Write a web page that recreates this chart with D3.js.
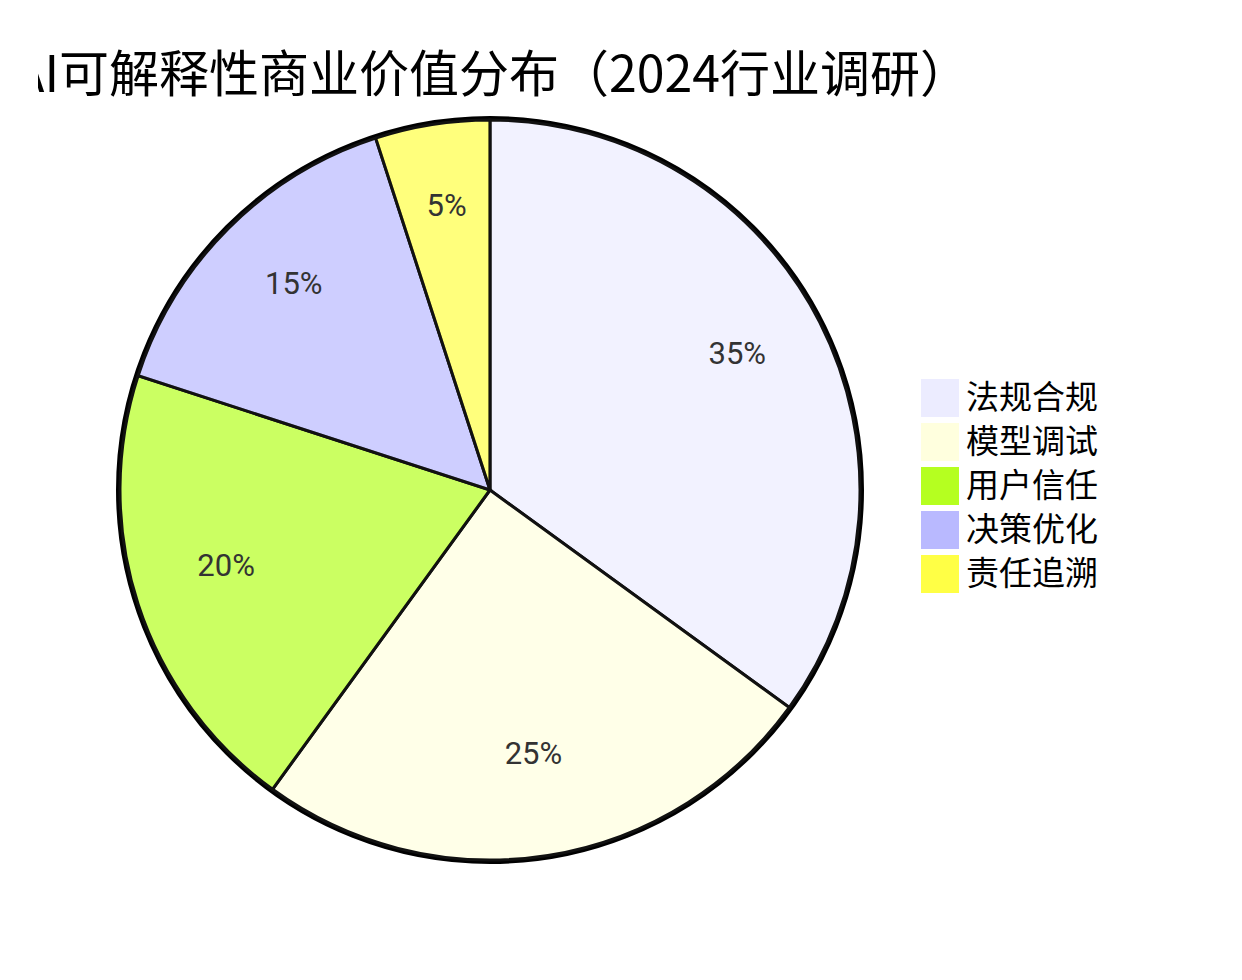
<!DOCTYPE html>
<html>
<head>
<meta charset="utf-8">
<script src="https://cdn.jsdelivr.net/npm/d3@7"></script>
<style>
  body { margin: 0; background: #fff; }
  svg { display: block; font-family: "Noto Sans CJK SC", "Noto Sans", sans-serif; }
</style>
</head>
<body>
<div id="pieFrame"></div>
<script>
// chart data
const title = 'AI可解释性商业价值分布（2024行业调研）'
const categories = ['法规合规', '模型调试', '用户信任', '决策优化', '责任追溯']
const values = [35, 25, 20, 15, 5]
const colors = ['#ECECFF', '#FFFFDE', '#B5FF20', '#B9B9FF', '#FFFF45']

const width = 1242
const height = 980
const cx = 490, cy = 490
const radius = 370

var svg = d3.select('#pieFrame')
  .append('svg')
    .attr('width', width)
    .attr('height', height)

// title is cut at the left edge like the original
svg.append('clipPath')
    .attr('id', 'titleClip')
  .append('rect')
    .attr('x', 38)
    .attr('y', 0)
    .attr('width', width)
    .attr('height', 120)

svg.append('text')
    .attr('clip-path', 'url(#titleClip)')
    .attr('x', 14)
    .attr('y', 92)
    .style('font-size', '50px')
    .style('fill', '#000')
    .text(title)

var color = d3.scaleOrdinal()
    .domain(categories)
    .range(colors)

var total = d3.sum(values)
var data = categories.map(function (c, i) { return { name: c, value: values[i] } })

var pie = d3.pie()
    .sort(null)
    .value(function (d) { return d.value })

var arc = d3.arc()
    .innerRadius(0)
    .outerRadius(radius)

var labelArc = d3.arc()
    .innerRadius(radius * 0.75)
    .outerRadius(radius * 0.75)

var g = svg.append('g')
    .attr('transform', 'translate(' + cx + ',' + cy + ')')

// outer ring
g.append('circle')
    .attr('r', radius + 2)
    .style('fill', 'none')
    .style('stroke', '#000')
    .style('stroke-width', 4)

g.selectAll('path.slice')
  .data(pie(data))
  .enter().append('path')
    .attr('class', 'slice')
    .attr('d', arc)
    .style('fill', function (d) { return color(d.data.name) })
    .style('fill-opacity', 0.7)
    .style('stroke', '#111')
    .style('stroke-width', 3)

g.selectAll('text.lbl')
  .data(pie(data))
  .enter().append('text')
    .attr('class', 'lbl')
    .attr('transform', function (d) { return 'translate(' + labelArc.centroid(d) + ')' })
    .style('text-anchor', 'middle')
    .style('font-family', 'Roboto, "Noto Sans", sans-serif')
    .style('font-size', '31px')
    .style('fill', '#333')
    .text(function (d) { return Math.round(d.data.value / total * 100) + '%' })

// legend
var legend = svg.selectAll('.legend')
  .data(categories)
  .enter().append('g')
    .attr('class', 'legend')
    .attr('transform', function (d, i) { return 'translate(921,' + (379 + i * 44) + ')' })

legend.append('rect')
    .attr('width', 38)
    .attr('height', 38)
    .style('fill', color)

legend.append('text')
    .attr('x', 45)
    .attr('y', 30)
    .style('font-size', '33px')
    .style('fill', '#000')
    .text(function (d) { return d })
</script>
</body>
</html>
